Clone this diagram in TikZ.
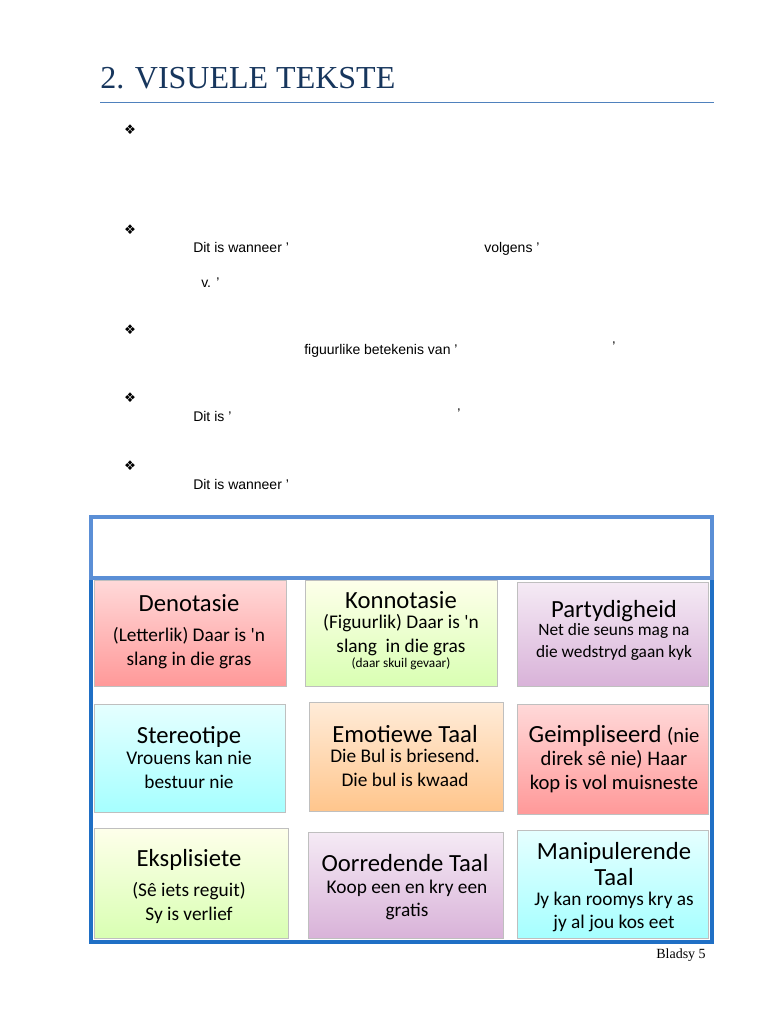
\documentclass[tikz,border=0pt]{standalone}
\usepackage{fontspec}
\setmainfont{Liberation Serif}
\newfontfamily\carfont{Carlito}
\newfontfamily\arsfont{Liberation Sans}
\newfontfamily\djfont{DejaVu Sans}
\definecolor{hblue}{HTML}{17365D}
\definecolor{lblue}{HTML}{4F81BD}
\definecolor{fblue}{HTML}{5B8FD6}
\definecolor{dblue}{HTML}{1F6FC5}
\begin{document}
\begin{tikzpicture}[x=0.75pt,y=-0.75pt,
  card/.style={draw=black!25,line width=0.4pt},
  pinkc/.style={card,top color=red!15,bottom color=red!40!white},
  greenc/.style={card,top color=green!5!yellow!8,bottom color=green!50!yellow!30},
  purpc/.style={card,top color=violet!8,bottom color=violet!30},
  cyanc/.style={card,top color=cyan!10,bottom color=cyan!35},
  orangec/.style={card,top color=orange!15,bottom color=orange!45},
  ttl/.style={font=\carfont\fontsize{18.5}{21}\selectfont,anchor=center},
  bdy/.style={font=\carfont\fontsize{14.5}{17.5}\selectfont,align=center,anchor=center},
  bl/.style={font=\djfont\fontsize{10}{11}\selectfont},
  tx/.style={font=\arsfont\fontsize{10.5}{12}\selectfont,anchor=base west,inner sep=0}]
\useasboundingbox (0,0) rectangle (768,1024);
\node[font=\fontsize{24}{27}\selectfont,text=hblue,anchor=base west,inner sep=0] (title) at (100,89) {2. VISUELE TEKSTE};
\draw[lblue,line width=0.6pt] (100,102) -- (714,102);
\foreach \y/\n in {130/a,230/b,330/c,398/d,466/e}{\node[bl] (b\n) at (130,\y) {❖};}
\node[tx] (t1) at (193,252) {Dit is wanneer ’};
\node[tx] (t2) at (484,252) {volgens ’};
\node[tx] (t3) at (201,287) {v. ’};
\node[tx] (t4) at (304,354) {figuurlike betekenis van ’};
\node[tx] (t5) at (612,351) {’};
\node[tx] (t6) at (193,421) {Dit is ’};
\node[tx] (t7) at (457,418) {’};
\node[tx] (t8) at (193,489) {Dit is wanneer ’};
% frame
\fill[white] (89,515) rectangle (714,944);
\draw[dblue,line width=3pt] (91,578) -- (91,942) -- (712,942) -- (712,578);
\draw[fblue,line width=3.5pt] (91,517) rectangle (712,578);
% cards
\path[pinkc] (94,580) rectangle (286,686);
\path[greenc] (305,580) rectangle (497,686);
\path[purpc] (517,582) rectangle (708,686);
\path[cyanc] (94,704) rectangle (285,812);
\path[orangec] (309,702) rectangle (503,811);
\path[pinkc] (517,704) rectangle (708,814);
\path[greenc] (94,828) rectangle (288,938);
\path[purpc] (308,832) rectangle (503,938);
\path[cyanc] (517,830) rectangle (708,938);
% texts
\node[ttl] (d1) at (189,603) {Denotasie};
\node[bdy] (d2) at (189,648) {(Letterlik) Daar is 'n\\slang in die gras};
\node[ttl] (k1) at (401,600) {Konnotasie};
\node[bdy] (k2) at (401,635) {(Figuurlik) Daar is 'n\\slang\ \ in die gras};
\node[font=\carfont\fontsize{10}{12}\selectfont] (k3) at (401,664) {(daar skuil gevaar)};
\node[ttl] (p1) at (614,611) {Partydigheid};
\node[bdy,font=\carfont\fontsize{13}{16}\selectfont] (p2) at (614,642) {Net die seuns mag na\\die wedstryd gaan kyk};
\node[ttl] (s1) at (189,737) {Stereotipe};
\node[bdy] (s2) at (189,770) {Vrouens kan nie\\bestuur nie};
\node[ttl] (e1) at (405,734) {Emotiewe Taal};
\node[bdy] (e2) at (405,768) {Die Bul is briesend.\\Die bul is kwaad};
\node[bdy,font=\carfont\fontsize{15.5}{17.5}\selectfont] (g1) at (614,759) {\fontsize{18.5}{18}\selectfont Geimpliseerd \fontsize{15.5}{17.5}\selectfont(nie\\direk sê nie) Haar\\kop is vol muisneste};
\node[ttl] (x1) at (189,860) {Eksplisiete};
\node[bdy] (x2) at (189,903) {(Sê iets reguit)\\Sy is verlief};
\node[ttl] (o1) at (405,863) {Oorredende Taal};
\node[bdy] (o2) at (407,900) {Koop een en kry een\\gratis};
\node[ttl,align=center,font=\carfont\fontsize{18.5}{20}\selectfont] (m1) at (614,864) {Manipulerende\\Taal};
\node[bdy] (m2) at (614,912) {Jy kan roomys kry as\\jy al jou kos eet};
\node[font=\fontsize{10.5}{12}\selectfont,anchor=base east,inner sep=0] (pg) at (706,958) {Bladsy 5};
\end{tikzpicture}
\end{document}
